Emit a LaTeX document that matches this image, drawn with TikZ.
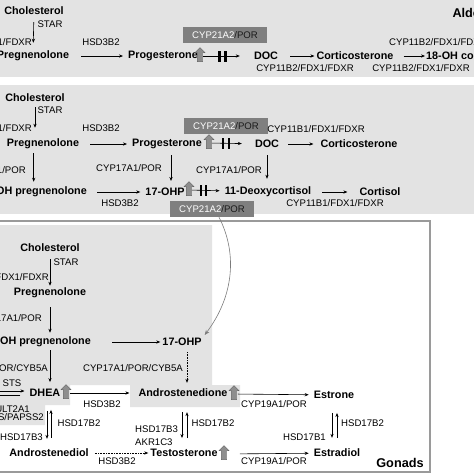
\documentclass[tikz,border=0pt]{standalone}
\usepackage{fontspec}
\setmainfont{Liberation Sans}
\usetikzlibrary{arrows.meta,shapes.arrows}
\definecolor{panelgray}{HTML}{E3E3E3}
\definecolor{boxgray}{HTML}{7F7F7F}
\definecolor{fatgray}{HTML}{8E8E8E}
\definecolor{framegray}{HTML}{9A9A9A}
\tikzset{
    met/.style={font=\bfseries\fontsize{10.8}{12}\selectfont, inner sep=1pt},
    enz/.style={font=\fontsize{9.6}{11}\selectfont, inner sep=1pt},
    cyp/.style={fill=boxgray, minimum width=84pt, minimum height=16pt, inner sep=1pt, font=\fontsize{9.6}{11}\selectfont},
    fatup/.style={single arrow, shape border rotate=90, draw=fatgray!70!black, fill=fatgray, inner sep=2.5pt, minimum height=14pt, single arrow head extend=2.2pt},
    rxn/.style={-{Stealth[length=4pt,width=3.2pt]}, line width=0.6pt},
    bar/.style={fill=black, inner sep=0pt, minimum width=2.4pt, minimum height=11pt},
}
\newcommand{\cyptext}{{\color{white}CYP21A2}\textcolor{black!90}{/POR}}
\begin{document}
\begin{tikzpicture}[x=1pt,y=-1pt]
    \useasboundingbox (0,0) rectangle (474,474);
    \clip (0,0) rectangle (474,474);
    % backgrounds
    \fill[panelgray] (0,0) rectangle (474,77);
    \fill[panelgray] (0,85) rectangle (474,214);
    \fill[panelgray] (0,225) -- (212,225) -- (212,385) -- (240,385) -- (240,407) -- (130,407)
        -- (130,385) -- (70,385) -- (70,405) -- (45,405) -- (45,425) -- (0,425) -- cycle;
    \draw[framegray, line width=1.5pt] (-5,221) rectangle (430,472);
    % metabolites
    \begin{scope}[every node/.style={met}]
        \node (chol1) at (34,11) {Cholesterol};
        \node (preg1) at (33,56) {Pregnenolone};
        \node (prog1) at (163,56) {Progesterone};
        \node (doc1) at (266,56) {DOC};
        \node (cort1) at (355,56) {Corticosterone};
        \node[anchor=west] (oh18) at (425,56) {18-OH corticosterone};
        \node (chol2) at (35,98) {Cholesterol};
        \node (preg2) at (43,144) {Pregnenolone};
        \node (prog2) at (167,144) {Progesterone};
        \node (doc2) at (267,144) {DOC};
        \node (cort2) at (359,144) {Corticosterone};
        \node[anchor=east] (ohpreg2) at (88,192) {17-OH pregnenolone};
        \node (ohp2) at (165,192) {17-OHP};
        \node (deoxy) at (268,192) {11-Deoxycortisol};
        \node (cortisol) at (380,192) {Cortisol};
        \node (chol3) at (50,248) {Cholesterol};
        \node (preg3) at (50,293) {Pregnenolone};
        \node[anchor=east] (ohpreg3) at (92,342) {17-OH pregnenolone};
        \node (ohp3) at (182,342) {17-OHP};
        \node (dhea) at (45,393) {DHEA};
        \node (andro) at (183,393) {Androstenedione};
        \node (estrone) at (334,395) {Estrone};
        \node (androdiol) at (49,453) {Androstenediol};
        \node (testo) at (184,453) {Testosterone};
        \node (estradiol) at (337,453) {Estradiol};
    \end{scope}
    \coordinate (dheas) at (-14,393);
    % panel labels
    \node[font=\bfseries\fontsize{12.7}{14}\selectfont, anchor=west] (aldo) at (449,13) {Aldosterone};
    \node[font=\bfseries\fontsize{12.7}{14}\selectfont] (gonads) at (400,463) {Gonads};
    % up arrows
    \begin{scope}[every node/.style={fatup}]
        \node (up1) at (200,56) {};
        \node (up2) at (209,143) {};
        \node (up3) at (189,190) {};
        \node (up4) at (66,393) {};
        \node (up5) at (234,394) {};
        \node (up6) at (224,454) {};
    \end{scope}
    % CYP21A2 boxes
    \node[cyp] (box1) at (225,35) {\cyptext};
    \node[cyp] (box2) at (226,126) {\cyptext};
    \node[cyp] (box3) at (212,209) {\cyptext};
    % enzymes
    \begin{scope}[every node/.style={enz}]
        \node (star1) at (50,24) {STAR};
        \node[anchor=east] (scc1) at (33,42) {CYP11A1/FDX1/FDXR};
        \node (hsd1) at (101,42) {HSD3B2};
        \node (b2a) at (305,68) {CYP11B2/FDX1/FDXR};
        \node (b2b) at (421,68) {CYP11B2/FDX1/FDXR};
        \node[anchor=west] (b2c) at (388,42) {CYP11B2/FDX1/FDXR};
        \node (star2) at (50,110) {STAR};
        \node[anchor=east] (scc2) at (33,128) {CYP11A1/FDX1/FDXR};
        \node (hsd2) at (101,128) {HSD3B2};
        \node (b1a) at (316,129) {CYP11B1/FDX1/FDXR};
        \node[anchor=east] (c17a) at (27,170) {CYP17A1/POR};
        \node (c17b) at (129,168) {CYP17A1/POR};
        \node (c17c) at (229,170) {CYP17A1/POR};
        \node (hsd3) at (120,203) {HSD3B2};
        \node (b1b) at (335,203) {CYP11B1/FDX1/FDXR};
        \node (star3) at (66,262) {STAR};
        \node[anchor=east] (scc3) at (50,277) {CYP11A1/FDX1/FDXR};
        \node[anchor=east] (c17d) at (43,318) {CYP17A1/POR};
        \node[anchor=east] (lyase1) at (49,368) {CYP17A1/POR/CYB5A};
        \node (lyase2) at (133,368) {CYP17A1/POR/CYB5A};
        \node (sts) at (12,383) {STS};
        \node[anchor=east] (sult) at (31,409) {SULT2A1};
        \node[anchor=east] (papss) at (45,417) {PAPSS/PAPSS2};
        \node (hsd4) at (102,404) {HSD3B2};
        \node (arom1) at (274,404) {CYP19A1/POR};
        \node (b17a) at (79,423) {HSD17B2};
        \node[anchor=east] (b17b) at (44,437) {HSD17B3};
        \node (b17c) at (213,423) {HSD17B2};
        \node[anchor=west] (b17d) at (134,429) {HSD17B3};
        \node[anchor=west] (akr) at (134,442) {AKR1C3};
        \node[anchor=west] (b17e) at (340,423) {HSD17B2};
        \node[anchor=east] (b17f) at (327,437) {HSD17B1};
        \node (hsd5) at (117,461) {HSD3B2};
        \node (arom2) at (274,461) {CYP19A1/POR};
    \end{scope}
    % reactions
    \begin{scope}[every edge/.style={draw,rxn}]
        \path
            (chol1) edge[shorten <=6pt, shorten >=7pt] (preg1)
            (preg1) edge[shorten <=11pt, shorten >=4pt] (prog1)
            (doc1) edge[shorten <=11pt, shorten >=1pt] (cort1)
            (cort1) edge[shorten <=9pt] (oh18)
            (chol2) edge[shorten <=4pt, shorten >=10pt] (chol2 |- preg2.north)
            (preg2) edge[shorten <=10pt, shorten >=4pt] (prog2)
            (ohpreg2.north |- preg2.south) edge[shorten <=3pt, shorten >=4pt] (ohpreg2.north)
            ([xshift=4pt]prog2.south) edge[shorten <=5pt, shorten >=6pt] ([xshift=4pt]prog2.south |- ohp2.north)
            (doc2) edge[shorten <=8pt, shorten >=6pt] (cort2)
            (doc2.south) edge[shorten <=6pt, shorten >=7pt] (doc2.south |- deoxy.north)
            (ohpreg2) edge[shorten <=9pt, shorten >=4pt] (ohp2)
            (deoxy) edge[shorten <=10pt, shorten >=11pt] (cortisol)
            (chol3) edge[shorten <=6pt, shorten >=1pt] (preg3)
            (preg3) edge[shorten <=8pt, shorten >=3pt] (preg3 |- ohpreg3.north)
            (ohpreg3) edge[shorten <=20pt, shorten >=1pt] (ohp3)
            (preg3 |- ohpreg3.south) edge[shorten <=2pt, shorten >=6pt] (preg3 |- dhea.north)
            ([xshift=5pt]ohp3.south) edge[densely dotted, shorten <=5pt, shorten >=5pt] ([xshift=5pt]ohp3.south |- andro.north)
            ([yshift=2pt]dheas) edge[shorten >=4pt] ([yshift=2pt]dheas -| dhea.west)
            ([yshift=-2pt,xshift=-8pt]dheas -| dhea.west) edge ([yshift=-2pt]dheas)
            (up4) edge[shorten <=1pt, shorten >=8pt] (andro)
            (up5) edge[shorten <=1pt, shorten >=4pt] (estrone)
            ([xshift=-2pt]dhea.south -| androdiol) edge[shorten <=13pt, shorten >=9pt] ([xshift=-2pt]androdiol.north)
            ([xshift=2pt]androdiol.north) edge[shorten <=10pt, shorten >=12pt] ([xshift=2pt]dhea.south -| androdiol)
            ([xshift=-1pt]andro.south) edge[shorten <=14pt, shorten >=10pt] ([xshift=-1pt]andro.south |- testo.north)
            ([xshift=4pt]andro.south |- testo.north) edge[shorten <=10pt, shorten >=14pt] ([xshift=4pt]andro.south)
            ([xshift=-2pt]estrone.south) edge[shorten <=13pt, shorten >=10pt] ([xshift=-2pt]estrone.south |- estradiol.north)
            ([xshift=3pt]estrone.south |- estradiol.north) edge[shorten <=10pt, shorten >=13pt] ([xshift=3pt]estrone.south)
            (androdiol) edge[densely dotted, shorten <=5pt, shorten >=1pt] (testo)
            (up6) edge[shorten <=13pt, shorten >=4pt] (estradiol);
    \end{scope}
    % blocked CYP21A2 steps
    \draw[rxn, shorten >=13pt] (up1) -- (doc1) node[bar, pos=0.33] (bar1) {} node[bar, pos=0.45] (bar2) {};
    \draw[rxn, shorten >=12pt] (up2) -- (doc2) node[bar, pos=0.27] (bar3) {} node[bar, pos=0.41] (bar4) {};
    \draw[rxn, shorten >=4pt] (up3) -- (deoxy) node[bar, pos=0.28] (bar5) {} node[bar, pos=0.45] (bar6) {};
    % 21-hydroxylation in gonads
    \draw[-{Stealth[length=5pt,width=4pt]}, draw=framegray!80!black, line width=0.6pt]
        ([xshift=7pt]box3.south) .. controls +(18,35) and +(30,-40) .. ([shift={(2,-2)}]ohp3.north east);
\end{tikzpicture}
\end{document}
